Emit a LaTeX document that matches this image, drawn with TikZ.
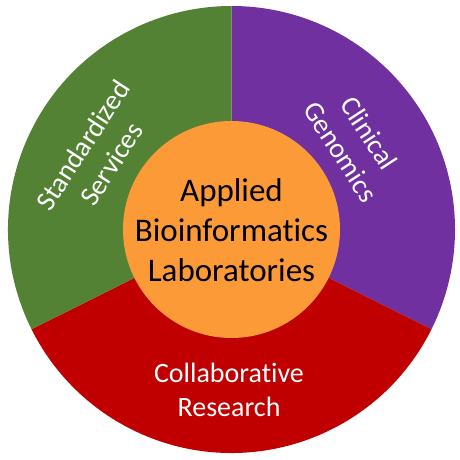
\documentclass[tikz,border=0pt]{standalone}
\usepackage{fontspec}
\setmainfont{Carlito}[Ligatures=NoCommon,RawFeature=-liga]
\definecolor{segG}{RGB}{84,130,53}
\definecolor{segP}{RGB}{112,48,160}
\definecolor{segR}{RGB}{192,0,0}
\definecolor{core}{RGB}{253,154,56}
\begin{document}
\begin{tikzpicture}[x=1pt,y=1pt,
  seglabel/.style={text=white,font=\fontsize{28}{34}\selectfont,align=center,inner sep=0pt},
  corelabel/.style={text=black,font=\fontsize{33}{40}\selectfont,align=center,inner sep=0pt}]
\useasboundingbox (0,0) rectangle (460,460);
\coordinate (c) at (231.5,230.5);
\fill[segP] (c) -- ++(90:223.5) arc[start angle=90,end angle=-26.5,radius=223.5] -- cycle;
\fill[segR] (c) -- ++(-26.5:223.5) arc[start angle=-26.5,end angle=-153.5,radius=223.5] -- cycle;
\fill[segG] (c) -- ++(206.5:223.5) arc[start angle=206.5,end angle=90,radius=223.5] -- cycle;
\node[circle, fill=core, minimum size=217pt, inner sep=0pt] (core) at (c) {};
\node[corelabel] (title) at ([yshift=-1]c) {Applied\\Bioinformatics\\Laboratories};
\node[seglabel, rotate=57] (std) at ([shift={(-134.5,75)}]c) {Standardized\\Services};
\node[seglabel, rotate=-57] (clin) at ([shift={(123.5,87)}]c) {Clinical\\Genomics};
\node[seglabel] (collab) at ([shift={(-2.5,-160)}]c) {Collaborative\\Research};
\end{tikzpicture}
\end{document}
